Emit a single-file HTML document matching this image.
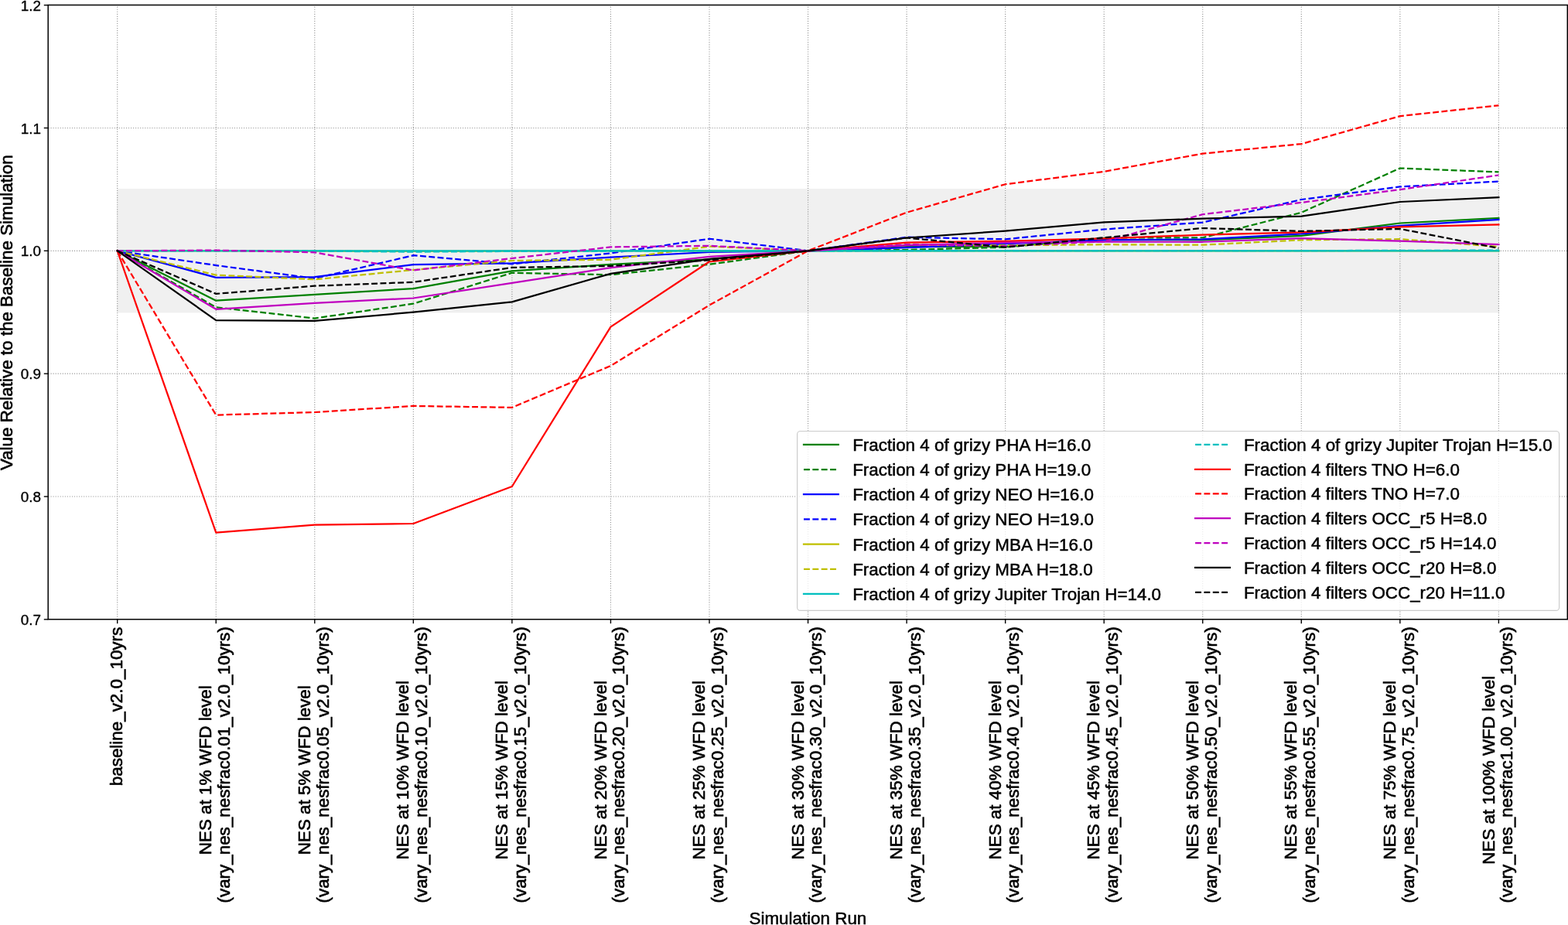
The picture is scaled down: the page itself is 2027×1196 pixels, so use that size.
<!DOCTYPE html>
<html lang="en"><head><meta charset="utf-8"><title>Value Relative to the Baseline Simulation</title>
<style>
html,body{margin:0;padding:0;background:#fff;}
body{width:2027px;height:1196px;overflow:hidden;}
svg{display:block;}
text{font-family:'Liberation Sans', sans-serif;fill:#000;stroke:#000;stroke-width:0.5px;stroke-linejoin:round;}
.b{font-size:22.4px;}
.yt{font-size:18.9px;}
.yt text{stroke-width:0.35px;}
.r text,text.rr{stroke-width:0.65px;}
.d{fill:none;stroke-width:2.25;stroke-linejoin:round;}
.s{stroke-linecap:square;}
.k{stroke-linecap:butt;stroke-dasharray:7.92 3.43;}
.g{fill:none;stroke:#999999;stroke-width:1.148;stroke-dasharray:1.148 1.8945;}
.t{stroke:#000;stroke-width:1.5;fill:none;}
</style></head><body>
<svg width="2027" height="1196" viewBox="0 0 2027 1196" role="img" aria-label="Line chart: value relative to the baseline simulation for each simulation run">
<rect x="0" y="0" width="2027" height="1196" fill="#ffffff"/>
<rect x="151.00" y="244.10" width="1787.15" height="160.30" fill="#f0f0f0"/>
<g class="g">
<path d="M151.70 800.80V6.50"/>
<path d="M279.25 800.80V6.50"/>
<path d="M406.80 800.80V6.50"/>
<path d="M534.35 800.80V6.50"/>
<path d="M661.90 800.80V6.50"/>
<path d="M789.45 800.80V6.50"/>
<path d="M917.00 800.80V6.50"/>
<path d="M1044.55 800.80V6.50"/>
<path d="M1172.10 800.80V6.50"/>
<path d="M1299.65 800.80V6.50"/>
<path d="M1427.20 800.80V6.50"/>
<path d="M1554.75 800.80V6.50"/>
<path d="M1682.30 800.80V6.50"/>
<path d="M1809.85 800.80V6.50"/>
<path d="M1937.40 800.80V6.50"/>
<path d="M62.49 642.03H2026.30"/>
<path d="M62.49 483.18H2026.30"/>
<path d="M62.49 324.33H2026.30"/>
<path d="M62.49 165.48H2026.30"/>
</g>
<g>
<polyline class="d s" stroke="#008000" points="151.70,324.30 279.25,388.70 406.80,380.80 534.35,373.10 661.90,350.30 789.45,341.90 917.00,335.40 1044.55,324.30 1172.10,319.00 1299.65,318.70 1427.20,310.00 1554.75,310.30 1682.30,304.85 1809.85,288.50 1937.40,282.05"/>
<polyline class="d k" stroke="#008000" points="151.70,324.30 279.25,397.30 406.80,411.60 534.35,392.70 661.90,352.80 789.45,355.25 917.00,341.80 1044.55,324.30 1172.10,323.00 1299.65,319.70 1427.20,307.50 1554.75,307.30 1682.30,274.80 1809.85,217.50 1937.40,222.40"/>
<polyline class="d s" stroke="#0000ff" points="151.70,324.30 279.25,358.80 406.80,358.15 534.35,342.10 661.90,340.45 789.45,332.60 917.00,326.00 1044.55,324.30 1172.10,320.05 1299.65,315.20 1427.20,310.30 1554.75,309.30 1682.30,302.40 1809.85,291.90 1937.40,284.00"/>
<polyline class="d k" stroke="#0000ff" points="151.70,324.30 279.25,343.05 406.80,360.00 534.35,330.20 661.90,341.40 789.45,327.40 917.00,308.75 1044.55,324.30 1172.10,306.70 1299.65,309.30 1427.20,296.50 1554.75,287.60 1682.30,258.00 1809.85,241.40 1937.40,234.60"/>
<polyline class="d s" stroke="#bfbf00" points="151.70,324.30 279.25,324.40 406.80,324.50 534.35,324.90 661.90,324.50 789.45,324.40 917.00,324.30 1044.55,324.30 1172.10,324.30 1299.65,324.30 1427.20,324.30 1554.75,324.30 1682.30,324.30 1809.85,324.30 1937.40,324.30"/>
<polyline class="d k" stroke="#bfbf00" points="151.70,324.30 279.25,355.60 406.80,361.30 534.35,349.00 661.90,337.00 789.45,335.70 917.00,318.60 1044.55,324.30 1172.10,316.90 1299.65,317.20 1427.20,316.20 1554.75,316.70 1682.30,310.30 1809.85,309.20 1937.40,319.05"/>
<polyline class="d s" stroke="#00bfbf" points="151.70,324.30 279.25,324.30 406.80,324.30 534.35,324.30 661.90,324.30 789.45,324.30 917.00,324.30 1044.55,324.30 1172.10,324.30 1299.65,324.30 1427.20,324.30 1554.75,324.30 1682.30,324.30 1809.85,324.30 1937.40,324.30"/>
<polyline class="d k" stroke="#00bfbf" points="151.70,324.30 279.25,324.40 406.80,324.60 534.35,325.60 661.90,324.90 789.45,324.50 917.00,324.30 1044.55,324.30 1172.10,324.20 1299.65,324.15 1427.20,324.15 1554.75,324.10 1682.30,324.10 1809.85,323.90 1937.40,323.60"/>
<polyline class="d s" stroke="#ff0000" points="151.70,324.30 279.25,688.70 406.80,678.60 534.35,677.00 661.90,629.00 789.45,422.60 917.00,338.30 1044.55,324.30 1172.10,313.60 1299.65,311.80 1427.20,308.30 1554.75,303.70 1682.30,300.40 1809.85,293.40 1937.40,290.40"/>
<polyline class="d k" stroke="#ff0000" points="151.70,324.30 279.25,536.60 406.80,533.00 534.35,524.90 661.90,526.90 789.45,473.00 917.00,394.60 1044.55,324.30 1172.10,274.70 1299.65,238.25 1427.20,221.80 1554.75,198.60 1682.30,186.10 1809.85,150.10 1937.40,136.30"/>
<polyline class="d s" stroke="#bf00bf" points="151.70,324.30 279.25,399.80 406.80,391.90 534.35,385.50 661.90,365.90 789.45,346.20 917.00,331.90 1044.55,324.30 1172.10,317.10 1299.65,313.70 1427.20,312.75 1554.75,312.75 1682.30,308.10 1809.85,311.65 1937.40,316.10"/>
<polyline class="d k" stroke="#bf00bf" points="151.70,324.30 279.25,323.60 406.80,326.30 534.35,349.50 661.90,334.00 789.45,319.40 917.00,317.80 1044.55,324.30 1172.10,316.10 1299.65,318.20 1427.20,312.25 1554.75,277.20 1682.30,261.90 1809.85,245.05 1937.40,226.50"/>
<polyline class="d s" stroke="#000000" points="151.70,324.30 279.25,414.10 406.80,414.80 534.35,403.70 661.90,390.30 789.45,353.80 917.00,334.90 1044.55,324.30 1172.10,307.50 1299.65,298.60 1427.20,287.40 1554.75,282.65 1682.30,279.70 1809.85,261.00 1937.40,255.20"/>
<polyline class="d k" stroke="#000000" points="151.70,324.30 279.25,379.90 406.80,369.70 534.35,364.80 661.90,345.90 789.45,343.90 917.00,336.40 1044.55,324.30 1172.10,307.50 1299.65,319.70 1427.20,307.30 1554.75,295.00 1682.30,298.90 1809.85,295.90 1937.40,321.00"/>
</g>
<rect class="t" x="62.20" y="6.50" width="1964.10" height="794.30"/>
<g class="t" style="stroke-width:1.4">
<path d="M151.70 800.80v5.40"/>
<path d="M279.25 800.80v5.40"/>
<path d="M406.80 800.80v5.40"/>
<path d="M534.35 800.80v5.40"/>
<path d="M661.90 800.80v5.40"/>
<path d="M789.45 800.80v5.40"/>
<path d="M917.00 800.80v5.40"/>
<path d="M1044.55 800.80v5.40"/>
<path d="M1172.10 800.80v5.40"/>
<path d="M1299.65 800.80v5.40"/>
<path d="M1427.20 800.80v5.40"/>
<path d="M1554.75 800.80v5.40"/>
<path d="M1682.30 800.80v5.40"/>
<path d="M1809.85 800.80v5.40"/>
<path d="M1937.40 800.80v5.40"/>
<path d="M62.20 800.88h-5.40"/>
<path d="M62.20 642.03h-5.40"/>
<path d="M62.20 483.18h-5.40"/>
<path d="M62.20 324.33h-5.40"/>
<path d="M62.20 165.48h-5.40"/>
<path d="M62.20 6.63h-5.40"/>
</g>
<g class="yt" text-anchor="end">
<text x="52.90" y="13.78">1.2</text>
<text x="52.90" y="172.63">1.1</text>
<text x="52.90" y="331.48">1.0</text>
<text x="52.90" y="490.33">0.9</text>
<text x="52.90" y="649.18">0.8</text>
<text x="52.90" y="808.03">0.7</text>
</g>
<g class="b r" text-anchor="middle">
<text transform="translate(157.70,913.50) rotate(-90)">baseline_v2.0_10yrs</text>
<text transform="translate(273.35,995.70) rotate(-90)">NES at 1% WFD level</text>
<text transform="translate(297.05,988.90) rotate(-90)">(vary_nes_nesfrac0.01_v2.0_10yrs)</text>
<text transform="translate(400.90,995.70) rotate(-90)">NES at 5% WFD level</text>
<text transform="translate(424.60,988.90) rotate(-90)">(vary_nes_nesfrac0.05_v2.0_10yrs)</text>
<text transform="translate(528.45,995.70) rotate(-90)">NES at 10% WFD level</text>
<text transform="translate(552.15,988.90) rotate(-90)">(vary_nes_nesfrac0.10_v2.0_10yrs)</text>
<text transform="translate(656.00,995.70) rotate(-90)">NES at 15% WFD level</text>
<text transform="translate(679.70,988.90) rotate(-90)">(vary_nes_nesfrac0.15_v2.0_10yrs)</text>
<text transform="translate(783.55,995.70) rotate(-90)">NES at 20% WFD level</text>
<text transform="translate(807.25,988.90) rotate(-90)">(vary_nes_nesfrac0.20_v2.0_10yrs)</text>
<text transform="translate(911.10,995.70) rotate(-90)">NES at 25% WFD level</text>
<text transform="translate(934.80,988.90) rotate(-90)">(vary_nes_nesfrac0.25_v2.0_10yrs)</text>
<text transform="translate(1038.65,995.70) rotate(-90)">NES at 30% WFD level</text>
<text transform="translate(1062.35,988.90) rotate(-90)">(vary_nes_nesfrac0.30_v2.0_10yrs)</text>
<text transform="translate(1166.20,995.70) rotate(-90)">NES at 35% WFD level</text>
<text transform="translate(1189.90,988.90) rotate(-90)">(vary_nes_nesfrac0.35_v2.0_10yrs)</text>
<text transform="translate(1293.75,995.70) rotate(-90)">NES at 40% WFD level</text>
<text transform="translate(1317.45,988.90) rotate(-90)">(vary_nes_nesfrac0.40_v2.0_10yrs)</text>
<text transform="translate(1421.30,995.70) rotate(-90)">NES at 45% WFD level</text>
<text transform="translate(1445.00,988.90) rotate(-90)">(vary_nes_nesfrac0.45_v2.0_10yrs)</text>
<text transform="translate(1548.85,995.70) rotate(-90)">NES at 50% WFD level</text>
<text transform="translate(1572.55,988.90) rotate(-90)">(vary_nes_nesfrac0.50_v2.0_10yrs)</text>
<text transform="translate(1676.40,995.70) rotate(-90)">NES at 55% WFD level</text>
<text transform="translate(1700.10,988.90) rotate(-90)">(vary_nes_nesfrac0.55_v2.0_10yrs)</text>
<text transform="translate(1803.95,995.70) rotate(-90)">NES at 75% WFD level</text>
<text transform="translate(1827.65,988.90) rotate(-90)">(vary_nes_nesfrac0.75_v2.0_10yrs)</text>
<text transform="translate(1931.50,995.70) rotate(-90)">NES at 100% WFD level</text>
<text transform="translate(1955.20,988.90) rotate(-90)">(vary_nes_nesfrac1.00_v2.0_10yrs)</text>
</g>
<text class="b" text-anchor="middle" x="1044.40" y="1195.20">Simulation Run</text>
<text class="b rr" text-anchor="middle" transform="translate(16.40,404.20) rotate(-90)">Value Relative to the Baseline Simulation</text>
<rect x="1030.60" y="557.50" width="985.00" height="231.90" rx="4.0" ry="4.0" fill="#ffffff" fill-opacity="0.8" stroke="#cccccc" stroke-width="1.2"/>
<g>
<path class="d s" stroke="#008000" d="M1039.00 574.90h44.80"/>
<text class="b" x="1102.20" y="582.90">Fraction 4 of grizy PHA H=16.0</text>
<path class="d k" stroke="#008000" d="M1039.00 607.07h44.80"/>
<text class="b" x="1102.20" y="615.07">Fraction 4 of grizy PHA H=19.0</text>
<path class="d s" stroke="#0000ff" d="M1039.00 639.24h44.80"/>
<text class="b" x="1102.20" y="647.24">Fraction 4 of grizy NEO H=16.0</text>
<path class="d k" stroke="#0000ff" d="M1039.00 671.41h44.80"/>
<text class="b" x="1102.20" y="679.41">Fraction 4 of grizy NEO H=19.0</text>
<path class="d s" stroke="#bfbf00" d="M1039.00 703.58h44.80"/>
<text class="b" x="1102.20" y="711.58">Fraction 4 of grizy MBA H=16.0</text>
<path class="d k" stroke="#bfbf00" d="M1039.00 735.75h44.80"/>
<text class="b" x="1102.20" y="743.75">Fraction 4 of grizy MBA H=18.0</text>
<path class="d s" stroke="#00bfbf" d="M1039.00 767.92h44.80"/>
<text class="b" x="1102.20" y="775.92">Fraction 4 of grizy Jupiter Trojan H=14.0</text>
<path class="d k" stroke="#00bfbf" d="M1545.10 574.80h44.80"/>
<text class="b" x="1607.90" y="582.80">Fraction 4 of grizy Jupiter Trojan H=15.0</text>
<path class="d s" stroke="#ff0000" d="M1545.10 606.80h44.80"/>
<text class="b" x="1607.90" y="614.80">Fraction 4 filters TNO H=6.0</text>
<path class="d k" stroke="#ff0000" d="M1545.10 638.45h44.80"/>
<text class="b" x="1607.90" y="646.45">Fraction 4 filters TNO H=7.0</text>
<path class="d s" stroke="#bf00bf" d="M1545.10 670.15h44.80"/>
<text class="b" x="1607.90" y="678.15">Fraction 4 filters OCC_r5 H=8.0</text>
<path class="d k" stroke="#bf00bf" d="M1545.10 702.00h44.80"/>
<text class="b" x="1607.90" y="710.00">Fraction 4 filters OCC_r5 H=14.0</text>
<path class="d s" stroke="#000000" d="M1545.10 733.90h44.80"/>
<text class="b" x="1607.90" y="741.90">Fraction 4 filters OCC_r20 H=8.0</text>
<path class="d k" stroke="#000000" d="M1545.10 765.80h44.80"/>
<text class="b" x="1607.90" y="773.80">Fraction 4 filters OCC_r20 H=11.0</text>
</g>
</svg>
</body></html>
